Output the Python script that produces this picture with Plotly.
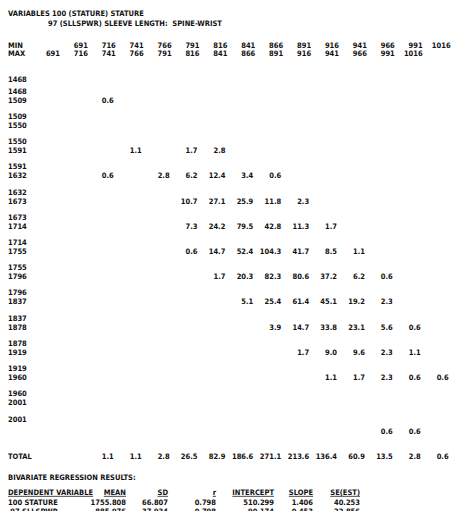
import plotly.graph_objects as go

# stature class bounds (rows) and sleeve length class bounds (columns)
row_min = ["", "1468", "1509", "1550", "1591", "1632", "1673", "1714", "1755", "1796", "1837", "1878", "1919", "1960", "2001"]
row_max = ["1468", "1509", "1550", "1591", "1632", "1673", "1714", "1755", "1796", "1837", "1878", "1919", "1960", "2001", ""]
col_min = ["", "691", "716", "741", "766", "791", "816", "841", "866", "891", "916", "941", "966", "991", "1016"]
col_max = ["691", "716", "741", "766", "791", "816", "841", "866", "891", "916", "941", "966", "991", "1016", ""]

# frequencies per 1000, keyed by row index -> {column index: value}
cells = {
    1: {2: "0.6"},
    3: {3: "1.1", 5: "1.7", 6: "2.8"},
    4: {2: "0.6", 4: "2.8", 5: "6.2", 6: "12.4", 7: "3.4", 8: "0.6"},
    5: {5: "10.7", 6: "27.1", 7: "25.9", 8: "11.8", 9: "2.3"},
    6: {5: "7.3", 6: "24.2", 7: "79.5", 8: "42.8", 9: "11.3", 10: "1.7"},
    7: {5: "0.6", 6: "14.7", 7: "52.4", 8: "104.3", 9: "41.7", 10: "8.5", 11: "1.1"},
    8: {6: "1.7", 7: "20.3", 8: "82.3", 9: "80.6", 10: "37.2", 11: "6.2", 12: "0.6"},
    9: {7: "5.1", 8: "25.4", 9: "61.4", 10: "45.1", 11: "19.2", 12: "2.3"},
    10: {8: "3.9", 9: "14.7", 10: "33.8", 11: "23.1", 12: "5.6", 13: "0.6"},
    11: {9: "1.7", 10: "9.0", 11: "9.6", 12: "2.3", 13: "1.1"},
    12: {10: "1.1", 11: "1.7", 12: "2.3", 13: "0.6", 14: "0.6"},
    13: {12: "0.6", 13: "0.6"},
}
row_totals = ["0.0", "0.6", "0.0", "5.6", "25.9", "77.8", "166.9", "223.2", "228.9", "158.4", "81.7", "23.7", "6.2", "0.0", "1.1"]
col_totals = ["", "", "1.1", "1.1", "2.8", "26.5", "82.9", "186.6", "271.1", "213.6", "136.4", "60.9", "13.5", "2.8", "0.6", "1000.0"]

reg_headers = ["DEPENDENT VARIABLE", "MEAN", "SD", "r", "INTERCEPT", "SLOPE", "SE(EST)"]
reg_rows = [
    ["100 STATURE", "1755.808", "66.807", "0.798", "510.299", "1.406", "40.253"],
    [" 97 SLLSPWR", "885.976", "37.934", "0.798", "90.174", "0.453", "22.856"],
]

FONT = dict(family="DejaVu Sans Condensed", size=7.5, color="#111111", weight="bold")
TOT_X = 477


def col_x(k):
    return 50 + 27.9 * k


# value line of each row; pair rows have their MIN label one line above
row_y = [72] + [93 + 25.2 * (i - 1) for i in range(1, 14)] + [424]
gap = 9

fig = go.Figure()


def add_text(xs, ys, texts, pos="middle left"):
    fig.add_trace(go.Scatter(x=xs, y=ys, text=texts, mode="text", textposition=pos,
                             textfont=FONT, hoverinfo="skip", showlegend=False,
                             cliponaxis=False))


# title lines
add_text([0], [6], ["VARIABLES 100 (STATURE) STATURE"], "middle right")
add_text([40], [16], ["97 (SLLSPWR) SLEEVE LENGTH:  SPINE-WRIST"], "middle right")

# column headers
add_text([0, 0], [38, 46], ["MIN", "MAX"], "middle right")
add_text([col_x(k) + 2 for k in range(15)], [38] * 15, col_min)
add_text([col_x(k) + 2 for k in range(15)], [46] * 15, col_max)
add_text([TOT_X], [47], ["TOTAL"])

# row labels
for i in range(15):
    if i == 0:
        add_text([0], [row_y[0]], [row_max[0]], "middle right")
    elif i == 14:
        add_text([0], [row_y[i] - 12], [row_min[i]], "middle right")
    else:
        add_text([0, 0], [row_y[i] - gap, row_y[i]], [row_min[i], row_max[i]], "middle right")

# cell values
xs, ys, ts = [], [], []
for i, row in cells.items():
    for k, v in row.items():
        xs.append(col_x(k))
        ys.append(row_y[i] if i < 13 else row_y[14])
        ts.append(v)
add_text(xs, ys, ts)
add_text([TOT_X] * 15, row_y, row_totals)

# totals row
add_text([0], [449], ["TOTAL"], "middle right")
add_text([col_x(k) for k in range(15)] + [TOT_X], [449] * 16, col_totals)

# regression results
add_text([0], [470], ["BIVARIATE REGRESSION RESULTS:"], "middle right")
reg_x = [0, 118, 160, 208, 266, 305, 352]
add_text([0], [485], ["<u>" + reg_headers[0] + "</u>"], "middle right")
add_text(reg_x[1:], [485] * 6, ["<u>" + h + "</u>" for h in reg_headers[1:]])
for j, r in enumerate(reg_rows):
    y = 495 + 9 * j
    add_text([0], [y], [r[0]], "middle right")
    add_text(reg_x[1:], [y] * 6, r[1:])

fig.update_layout(
    width=474, height=511, margin=dict(l=0, r=0, t=0, b=0),
    paper_bgcolor="white", plot_bgcolor="white",
    xaxis=dict(range=[0, 474], visible=False, fixedrange=True),
    yaxis=dict(range=[511, 0], visible=False, fixedrange=True),
)
fig.write_html("out.html")
